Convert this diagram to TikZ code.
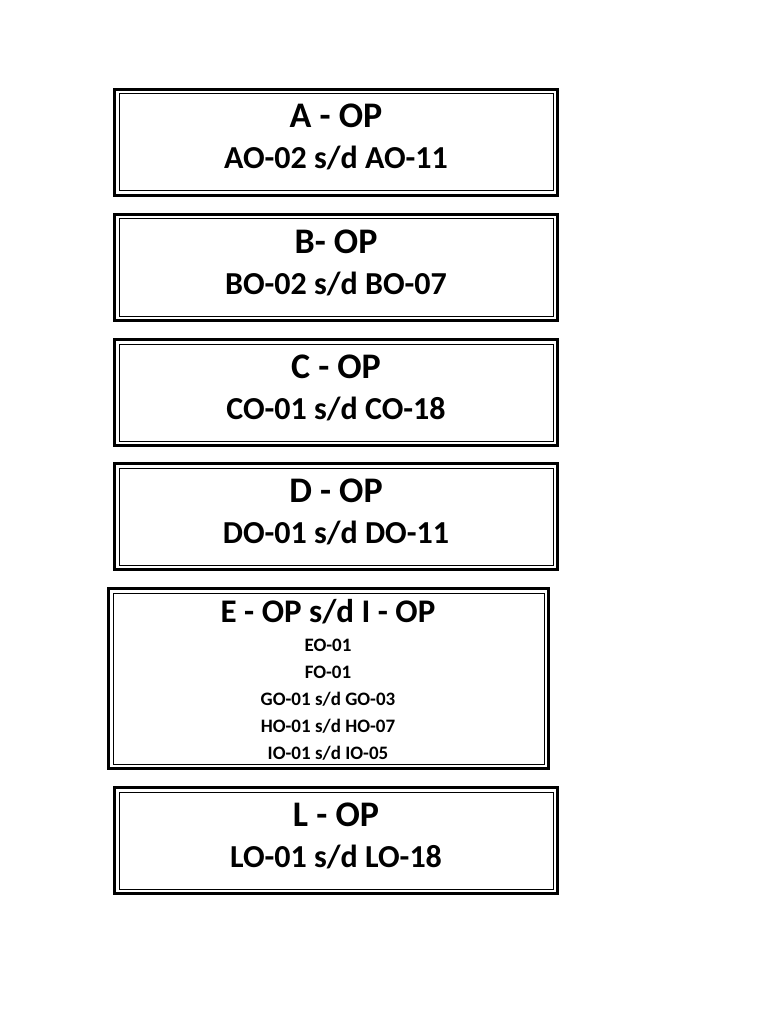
\documentclass[tikz,border=0pt]{standalone}
\usepackage{fontspec}
\setmainfont{Carlito}
\begin{document}
\begin{tikzpicture}[x=1pt,y=-1pt,
  ttl/.style={anchor=base,font=\fontsize{36}{38}\selectfont\bfseries,inner sep=0},
  sub/.style={anchor=base,font=\fontsize{32}{34}\selectfont\bfseries,inner sep=0},
  etl/.style={anchor=base,font=\fontsize{33}{34}\selectfont\bfseries,inner sep=0},
  eln/.style={anchor=base,font=\fontsize{19}{20}\selectfont\bfseries,inner sep=0}]
\useasboundingbox (0,0) rectangle (768,1024);
\newcommand\frm[4]{%
  \draw[line width=3.5pt] (#1,#2) rectangle (#3,#4);
  \draw[line width=1pt] (#1+4.5,#2+4.5) rectangle (#3-4.5,#4-4.5);}
\newcommand\bx[4]{%
  \frm{114.5}{#2+1.5}{557.5}{#2+107.5}
  \node[ttl] (t#1) at (336,#2+40) {#3};
  \node[sub] (s#1) at (336,#2+81) {#4};}
\bx{a}{88}{A - OP}{AO-02 s/d AO-11}
\bx{b}{213}{B- OP}{BO-02 s/d BO-07}
\bx{c}{338}{C - OP}{CO-01 s/d CO-18}
\bx{d}{462}{D - OP}{DO-01 s/d DO-11}
\bx{l}{786}{L - OP}{LO-01 s/d LO-18}
\frm{108.5}{588.5}{548.5}{768.5}
\node[etl] (et) at (328,622) {E - OP s/d I - OP};
\node[eln] (e1) at (328,651) {EO-01};
\node[eln] (e2) at (328,678) {FO-01};
\node[eln] (e3) at (328,705) {GO-01 s/d GO-03};
\node[eln] (e4) at (328,732) {HO-01 s/d HO-07};
\node[eln] (e5) at (328,759) {IO-01 s/d IO-05};
\end{tikzpicture}
\end{document}
